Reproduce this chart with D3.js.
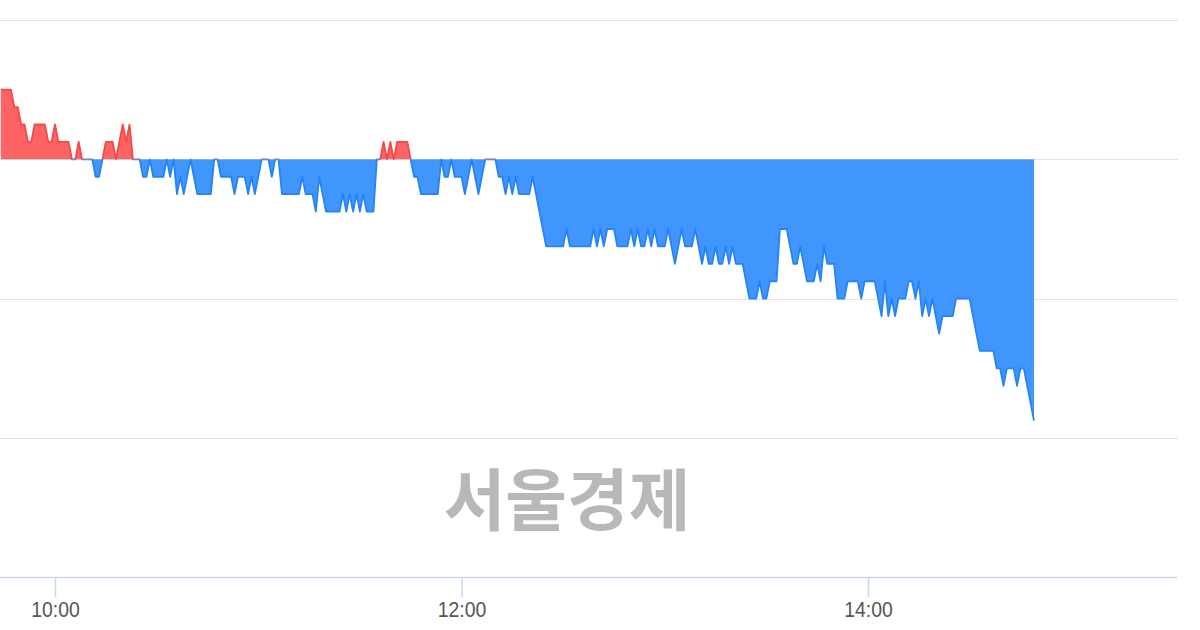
<!DOCTYPE html>
<html>
<head>
<meta charset="utf-8">
<script src="https://cdn.jsdelivr.net/npm/d3@7"></script>
<style>
  body { margin: 0; background: #fff; }
  svg { display: block; }
</style>
</head>
<body>
<script>
// intraday change vs previous close, one value per minute from startTime (in price ticks)
var startTime = "09:44";
var values = [
  4, 4, 4, 4, 3, 3, 2, 2, 1, 1,
  2, 2, 2, 2, 1, 1, 2, 1, 1, 1,
  1, 0, 0, 1, 0, 0, 0, 0, -1, -1,
  0, 1, 1, 1, 0, 1, 2, 1, 2, 0,
  0, 0, -1, -1, 0, -1, -1, -1, -1, 0,
  -1, 0, -2, -1, -2, -1, 0, -1, -2, -2,
  -2, -2, -2, 0, 0, -1, -1, -1, -1, -2,
  -1, -1, -1, -2, -1, -2, -1, 0, 0, 0,
  -1, 0, 0, -2, -2, -2, -2, -2, -2, -1,
  -2, -2, -2, -3, -1, -2, -3, -3, -3, -3,
  -3, -2, -3, -2, -3, -2, -3, -2, -3, -3,
  -3, 0, 0, 1, 0, 1, 0, 1, 1, 1,
  1, 0, -1, -1, -2, -2, -2, -2, -2, -2,
  0, -1, -1, 0, -1, -1, -1, -2, -1, 0,
  -1, -2, -1, 0, 0, 0, 0, -1, -1, -2,
  -1, -2, -1, -2, -2, -2, -2, -1, -2, -3,
  -4, -5, -5, -5, -5, -5, -5, -4, -5, -5,
  -5, -5, -5, -5, -5, -4, -5, -4, -5, -4,
  -4, -4, -5, -5, -5, -5, -4, -5, -4, -5,
  -5, -4, -5, -4, -5, -5, -5, -4, -5, -6,
  -5, -4, -5, -5, -5, -4, -5, -6, -5, -6,
  -6, -5, -6, -6, -5, -6, -5, -6, -6, -6,
  -7, -8, -8, -8, -7, -8, -8, -7, -7, -7,
  -4, -4, -4, -5, -6, -6, -5, -6, -7, -7,
  -7, -6, -7, -5, -6, -6, -6, -8, -8, -8,
  -7, -7, -7, -7, -8, -7, -7, -7, -7, -8,
  -9, -7, -9, -8, -9, -8, -8, -8, -7, -7,
  -8, -7, -9, -8, -9, -8, -9, -10, -9, -9,
  -9, -9, -8, -8, -8, -8, -8, -9, -10, -11,
  -11, -11, -11, -11, -12, -12, -13, -12, -12, -12,
  -13, -12, -12, -13, -14, -15
];
var gridValues = [8, 0, -8, -16];
var tickTimes = ["10:00", "12:00", "14:00"];
var watermark = "서울경제";

var width = 1200, height = 630;

function toMin(s) {
  var p = s.split(":");
  return +p[0] * 60 + +p[1];
}

var t0 = toMin(startTime);
var data = values.map(function(v, i) { return {t: t0 + i, v: v}; });

var svg = d3.select("body").append("svg")
  .attr("width", width)
  .attr("height", height);

// scales
var x = d3.scaleLinear()
  .domain([toMin("10:00"), toMin("14:00")])
  .range([55, 868]);

var y = d3.scaleLinear()
  .domain([8, -16])
  .range([20, 438]);

var plotRight = 1178;
var axisY = 577;

// gridlines
svg.append("g")
  .selectAll("line")
  .data(gridValues)
  .enter()
  .append("line")
  .attr("x1", 0)
  .attr("x2", plotRight)
  .attr("y1", function(d) { return Math.round(y(d)) + 0.5; })
  .attr("y2", function(d) { return Math.round(y(d)) + 0.5; })
  .attr("stroke", "#e3e3e3")
  .attr("stroke-width", 1);

// watermark
svg.append("text")
  .attr("transform", "translate(567,525) scale(1,1)")
  .attr("text-anchor", "middle")
  .style("font-family", "'Noto Sans CJK KR', sans-serif")
  .style("font-weight", "bold")
  .style("font-size", "67px")
  .style("fill", "#b8b8b8")
  .text(watermark);

// clip regions above / below previous close
var base = y(0);
var defs = svg.append("defs");
defs.append("clipPath").attr("id", "clipUp")
  .append("rect")
  .attr("x", 0).attr("y", 0)
  .attr("width", width).attr("height", base);
defs.append("clipPath").attr("id", "clipDown")
  .append("rect")
  .attr("x", 0).attr("y", base)
  .attr("width", width).attr("height", height - base);

var area = d3.area()
  .x(function(d) { return x(d.t); })
  .y0(base)
  .y1(function(d) { return y(d.v); });

var line = d3.line()
  .x(function(d) { return x(d.t); })
  .y(function(d) { return y(d.v); });

var series = [
  {clip: "clipUp", fill: "#ff6464", stroke: "#f74747"},
  {clip: "clipDown", fill: "#4196fd", stroke: "#2483f7"}
];

series.forEach(function(s) {
  var g = svg.append("g").attr("clip-path", "url(#" + s.clip + ")");
  g.append("path")
    .datum(data)
    .attr("d", area)
    .attr("fill", s.fill);
  g.append("path")
    .datum(data)
    .attr("d", line)
    .attr("fill", "none")
    .attr("stroke", s.stroke)
    .attr("stroke-width", 1.8)
    .attr("stroke-linejoin", "round");
});

// x axis
svg.append("line")
  .attr("x1", 0)
  .attr("x2", plotRight - 1)
  .attr("y1", axisY + 0.5)
  .attr("y2", axisY + 0.5)
  .attr("stroke", "#ccd6eb")
  .attr("stroke-width", 1.5);

var xAxis = svg.append("g")
  .attr("transform", "translate(0," + axisY + ")")
  .call(d3.axisBottom(x)
    .tickValues(tickTimes.map(toMin))
    .tickFormat(function(d, i) { return tickTimes[i]; })
    .tickSize(20)
    .tickSizeOuter(0));

xAxis.select(".domain").remove();
xAxis.selectAll(".tick line")
  .attr("stroke", "#ccd6eb")
  .attr("stroke-width", 1.5);
xAxis.selectAll(".tick text")
  .attr("y", 40)
  .attr("dy", 0)
  .attr("transform", "scale(0.88,1)")
  .style("font-family", "'Liberation Sans', Arial, sans-serif")
  .style("font-size", "22px")
  .style("fill", "#555");
</script>
</body>
</html>
